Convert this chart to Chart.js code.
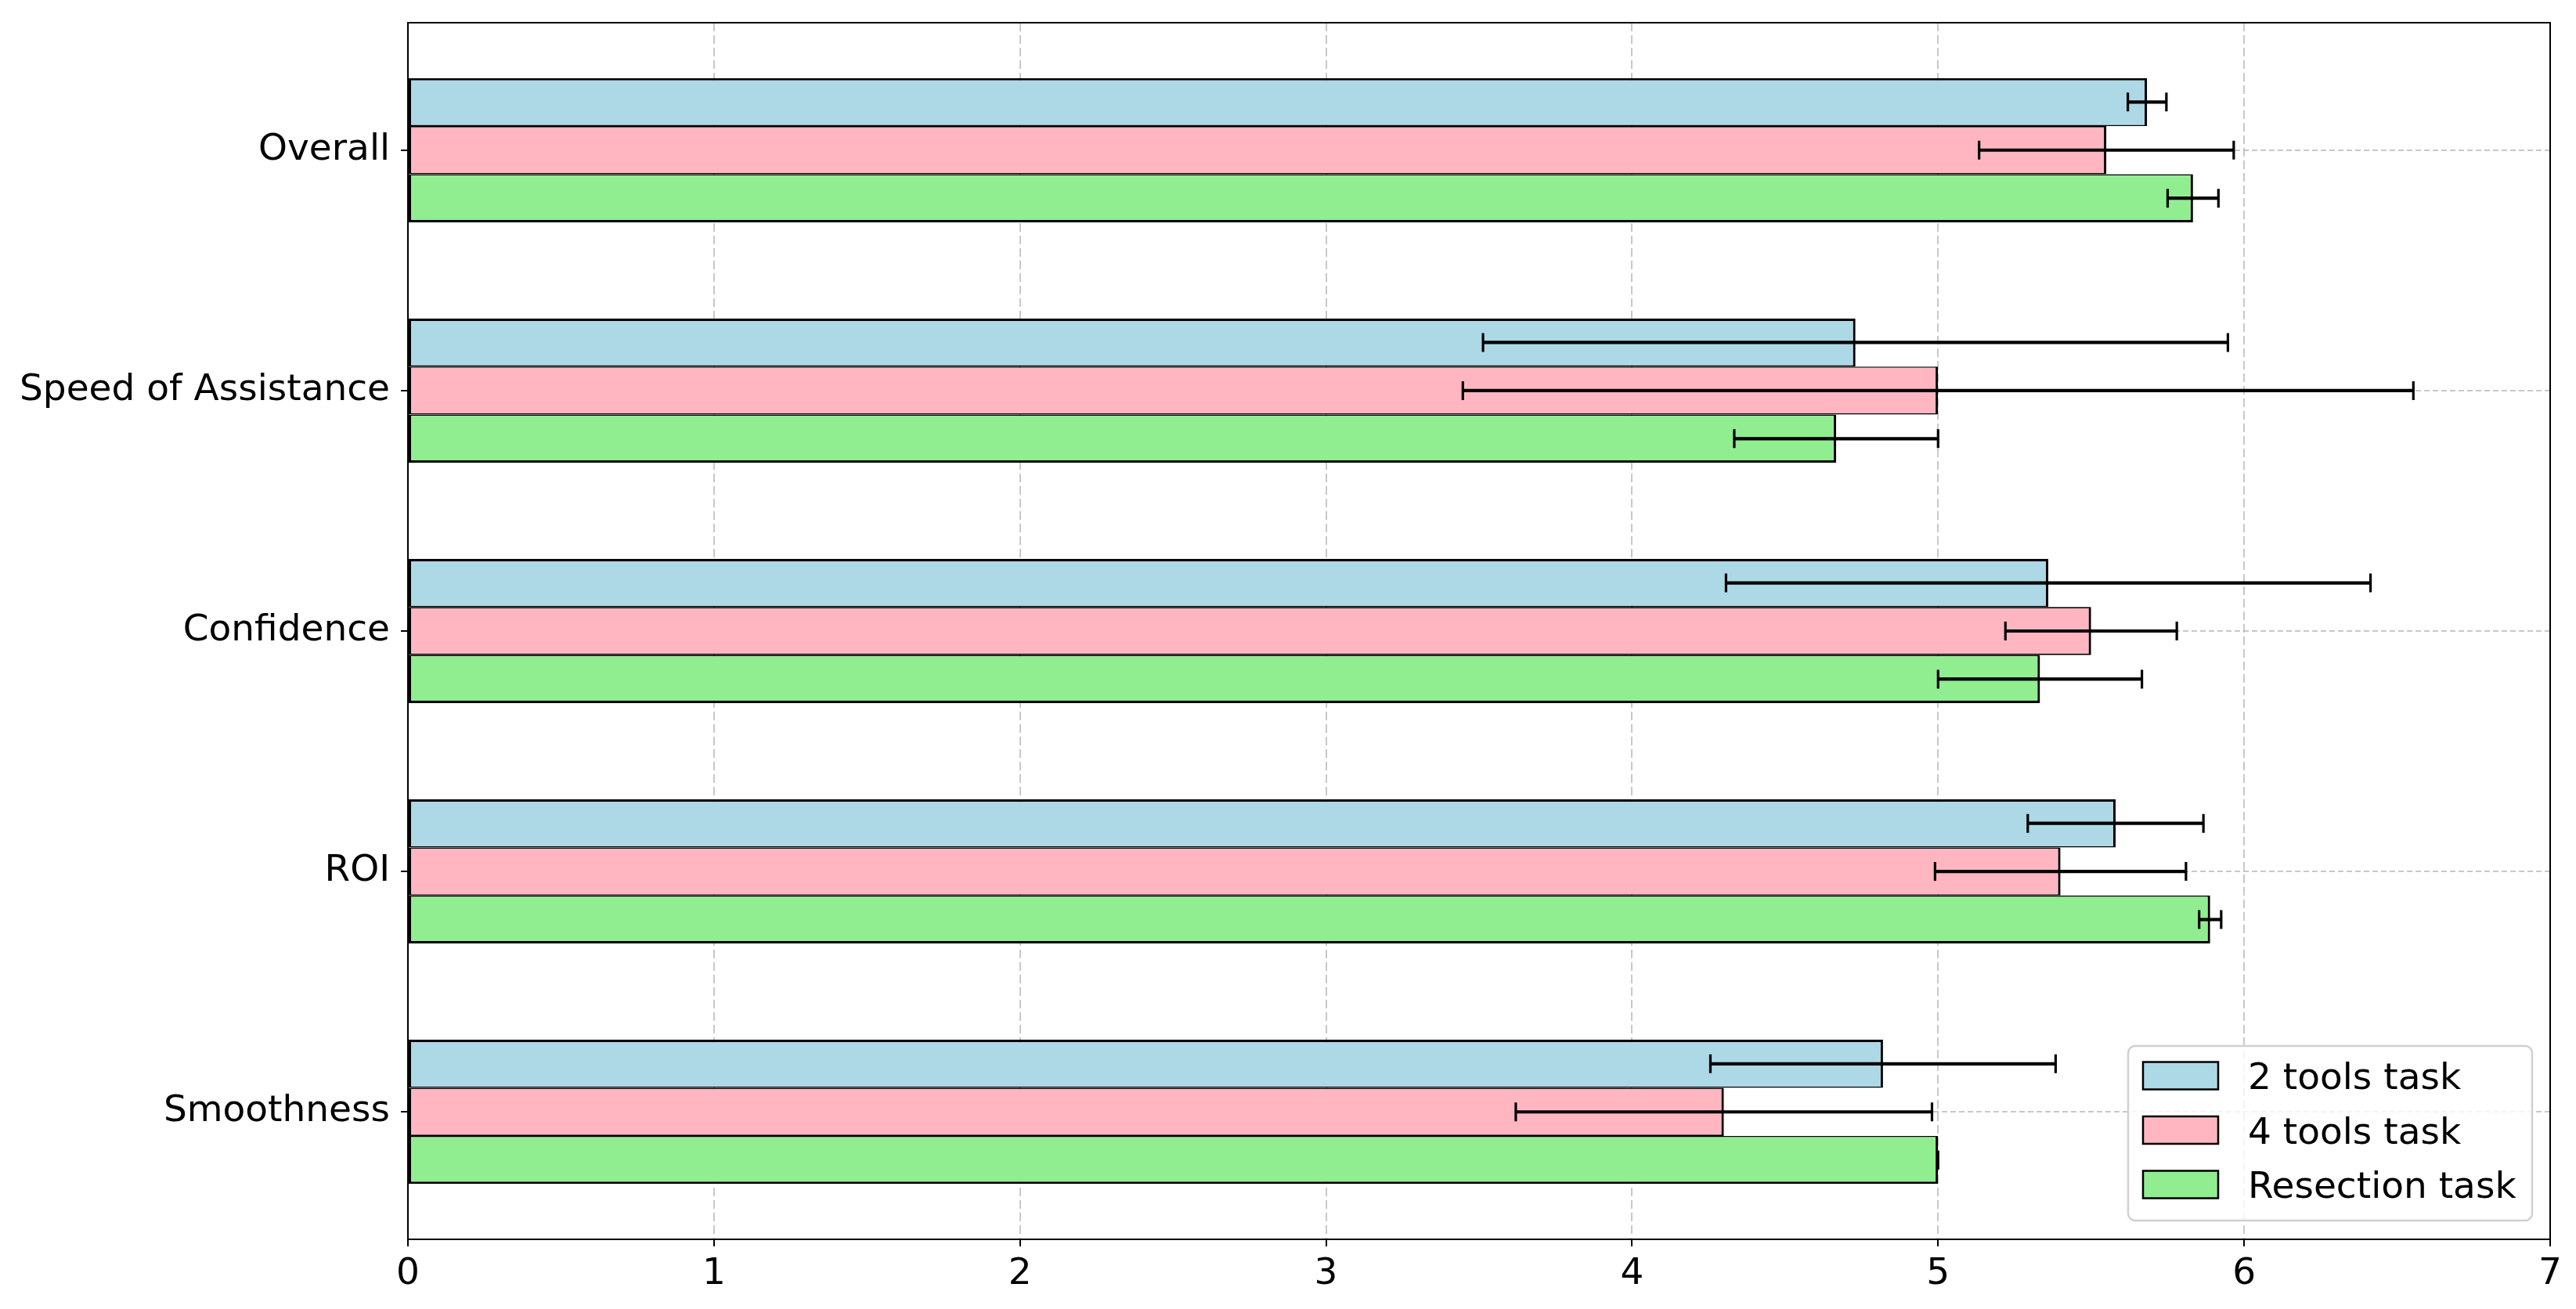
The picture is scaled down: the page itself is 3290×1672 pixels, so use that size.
<!DOCTYPE html>
<html><head><meta charset="utf-8">
<script src="https://cdn.jsdelivr.net/npm/chart.js@4/dist/chart.umd.min.js"></script>
<style>html,body{margin:0;padding:0;background:#fff;} #wrap{width:3290px;height:1672px;position:relative;}</style>
</head><body><div id="wrap"><canvas id="c" width="3290" height="1672"></canvas></div>
<script>
const categories = ['Overall', 'Speed of Assistance', 'Confidence', 'ROI', 'Smoothness'];
const seriesNames = ['2 tools task', '4 tools task', 'Resection task'];
const twoTools = [5.683, 4.73, 5.36, 5.58, 4.82];
const twoToolsErr = [0.063, 1.217, 1.053, 0.287, 0.564];
const fourTools = [5.55, 5.00, 5.50, 5.40, 4.30];
const fourToolsErr = [0.416, 1.553, 0.28, 0.41, 0.68];
const resection = [5.833, 4.667, 5.333, 5.889, 5.00];
const resectionErr = [0.083, 0.333, 0.333, 0.036, 0];
const xTicks = [0, 1, 2, 3, 4, 5, 6, 7];

const FONT = 'DejaVu Sans';
const FS = 47;
const colors = ['#ADD8E6', '#FFB6C1', '#90EE90'];
const errors = [twoToolsErr, fourToolsErr, resectionErr];
const toPts = arr => arr.map((v, i) => ({ x: v, y: i }));

const errorBars = {
  id: 'errorBars',
  afterDraw(chart) {
    const ctx = chart.ctx, xs = chart.scales.x;
    chart.data.datasets.forEach((ds, di) => {
      const meta = chart.getDatasetMeta(di);
      meta.data.forEach((el, j) => {
        const v = ds.data[j].x, e = errors[di][j];
        const x1 = xs.getPixelForValue(v - e), x2 = xs.getPixelForValue(v + e), y = el.y;
        ctx.save();
        ctx.strokeStyle = '#000';
        ctx.lineWidth = 4.2;
        ctx.beginPath(); ctx.moveTo(x1, y); ctx.lineTo(x2, y); ctx.stroke();
        ctx.lineWidth = 3.2;
        ctx.beginPath();
        ctx.moveTo(x1, y - 12); ctx.lineTo(x1, y + 12);
        ctx.moveTo(x2, y - 12); ctx.lineTo(x2, y + 12);
        ctx.stroke();
        ctx.restore();
      });
    });
  }
};

const frameAndLegend = {
  id: 'frameAndLegend',
  afterDraw(chart) {
    const ctx = chart.ctx, a = chart.chartArea;
    ctx.save();
    ctx.strokeStyle = '#000';
    ctx.lineWidth = 2;
    ctx.strokeRect(a.left, a.top, a.right - a.left, a.bottom - a.top);
    const bx = a.right - 539, by = a.bottom - 247, bw = 516, bh = 223, r = 9;
    ctx.beginPath();
    ctx.moveTo(bx + r, by);
    ctx.arcTo(bx + bw, by, bx + bw, by + bh, r);
    ctx.arcTo(bx + bw, by + bh, bx, by + bh, r);
    ctx.arcTo(bx, by + bh, bx, by, r);
    ctx.arcTo(bx, by, bx + bw, by, r);
    ctx.closePath();
    ctx.fillStyle = 'rgba(255,255,255,0.8)';
    ctx.fill();
    ctx.strokeStyle = '#d0d0d0';
    ctx.lineWidth = 2.5;
    ctx.stroke();
    ctx.font = FS + 'px "' + FONT + '"';
    ctx.textBaseline = 'alphabetic';
    ctx.textAlign = 'left';
    chart.data.datasets.forEach((ds, i) => {
      const cy = by + 38 + i * 69.5;
      ctx.fillStyle = ds.backgroundColor;
      ctx.fillRect(bx + 19, cy - 17.5, 96, 35);
      ctx.strokeStyle = '#000';
      ctx.lineWidth = 2.5;
      ctx.strokeRect(bx + 19, cy - 17.5, 96, 35);
      ctx.fillStyle = '#000';
      ctx.fillText(ds.label, bx + 153, cy + 17);
    });
    ctx.restore();
  }
};

const borders = [
  { top: 3.2, right: 3.2, bottom: 1.6, left: 3 },
  { top: 1.6, right: 3.2, bottom: 1.6, left: 3 },
  { top: 1.6, right: 3.2, bottom: 3.2, left: 3 }
];
const seriesData = [twoTools, fourTools, resection];

const noPad = s => { s.paddingTop = 0; s.paddingBottom = 0; s.paddingLeft = 0; s.paddingRight = 0; };

new Chart(document.getElementById('c'), {
  type: 'bar',
  data: {
    datasets: seriesData.map((arr, i) => ({
      label: seriesNames[i],
      data: toPts(arr),
      backgroundColor: colors[i],
      borderColor: '#000',
      borderWidth: borders[i],
      borderSkipped: false,
      categoryPercentage: 0.6,
      barPercentage: 1.0
    }))
  },
  options: {
    indexAxis: 'y',
    responsive: false,
    devicePixelRatio: 1,
    animation: false,
    layout: { padding: { top: 29, right: 33, left: 0, bottom: 0 } },
    plugins: { legend: { display: false }, tooltip: { enabled: false } },
    scales: {
      x: {
        type: 'linear', min: 0, max: 7, z: 1, offset: false,
        afterBuildTicks: s => { s.ticks = xTicks.map(v => ({ value: v })); },
        afterFit: s => { s.height = 89; noPad(s); },
        grid: { offset: false, color: 'rgba(176,176,176,0.7)', lineWidth: 2, tickColor: '#000', tickWidth: 2, tickLength: 9 },
        border: { color: '#000', width: 2, dash: [11, 5] },
        ticks: { color: '#000', font: { family: FONT, size: FS }, padding: 8, maxRotation: 0 }
      },
      y: {
        type: 'linear', min: -0.53, max: 4.53, reverse: true, z: 1, offset: false,
        afterBuildTicks: s => { s.ticks = categories.map((c, i) => ({ value: i })); },
        afterFit: s => { s.width = 521; noPad(s); },
        grid: { offset: false, color: 'rgba(176,176,176,0.7)', lineWidth: 2, tickColor: '#000', tickWidth: 2, tickLength: 9 },
        border: { color: '#000', width: 2, dash: [7, 4] },
        ticks: { color: '#000', font: { family: FONT, size: FS }, padding: 14,
          callback: v => categories[v] }
      }
    }
  },
  plugins: [errorBars, frameAndLegend]
});
</script></body></html>
